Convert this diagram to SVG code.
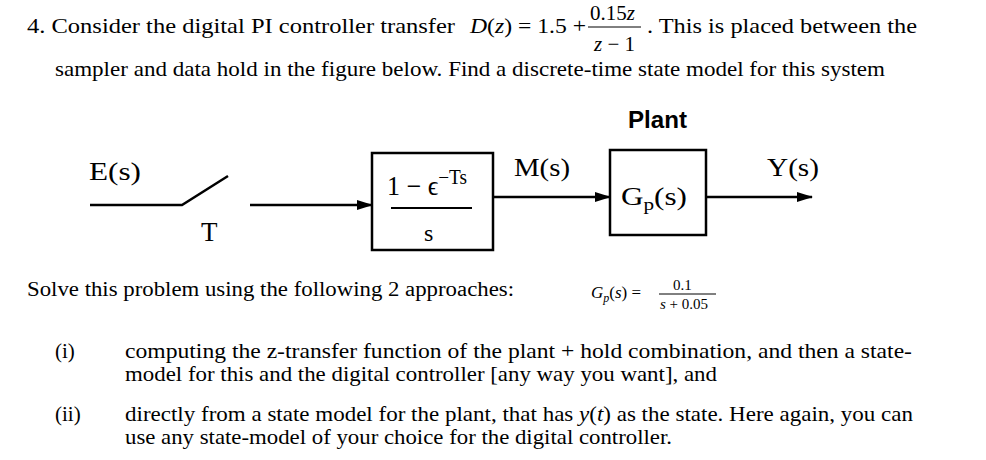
<svg xmlns="http://www.w3.org/2000/svg" width="986" height="460" viewBox="0 0 986 460">
<style>
text{font-family:"Liberation Serif",serif;fill:#000}
.t{font-size:21px}
.n{fill:none;stroke:#000;stroke-width:2.5}
.b{fill:none;stroke:#000;stroke-width:2.5}
</style>
<defs><marker id="a" markerWidth="16" markerHeight="10" refX="15" refY="5" orient="auto" markerUnits="userSpaceOnUse"><path d="M0,0 L16,5 L0,10z"/></marker></defs>
<rect width="986" height="460" fill="#fff"/>
<g id="text">
<text class="t" x="27" y="33" textLength="428" lengthAdjust="spacingAndGlyphs">4.  Consider the digital PI controller transfer</text>
<text class="t" x="470" y="33" textLength="116" lengthAdjust="spacingAndGlyphs"><tspan font-style="italic">D</tspan>(<tspan font-style="italic">z</tspan>) = 1.5 +</text>
<text class="t" x="590" y="20">0.15<tspan font-style="italic">z</tspan></text>
<line x1="588" y1="27" x2="641" y2="27" stroke="#000" stroke-width="1"/>
<text class="t" x="594" y="51"><tspan font-style="italic">z</tspan> − 1</text>
<text class="t" x="647" y="33" textLength="270" lengthAdjust="spacingAndGlyphs">.  This is placed between the</text>
<text class="t" x="55" y="76" textLength="830" lengthAdjust="spacingAndGlyphs">sampler and data hold in the figure below. Find a discrete-time state model for this system</text>
<text x="27" y="296" font-size="20" textLength="487" lengthAdjust="spacingAndGlyphs">Solve this problem using the following 2 approaches:</text>
<text x="591" y="298" font-size="17"><tspan font-style="italic">G</tspan><tspan font-style="italic" font-size="12" dy="4">p</tspan><tspan dy="-4">(</tspan><tspan font-style="italic">s</tspan>) =</text>
<text x="673" y="290" font-size="15">0.1</text>
<line x1="659" y1="294" x2="716" y2="294" stroke="#000" stroke-width="1"/>
<text x="660" y="309" font-size="15"><tspan font-style="italic">s</tspan> + 0.05</text>
<text class="t" x="55" y="358">(i)</text>
<text class="t" x="125" y="358" textLength="787" lengthAdjust="spacingAndGlyphs">computing the z-transfer function of the plant + hold combination, and then a state-</text>
<text class="t" x="125" y="381" textLength="592" lengthAdjust="spacingAndGlyphs">model for this and the digital controller [any way you want], and</text>
<text class="t" x="55" y="421">(ii)</text>
<text class="t" x="125" y="421" textLength="788" lengthAdjust="spacingAndGlyphs">directly from a state model for the plant, that has <tspan font-style="italic">y</tspan>(<tspan font-style="italic">t</tspan>) as the state. Here again, you can</text>
<text class="t" x="125" y="444" textLength="547" lengthAdjust="spacingAndGlyphs">use any state-model of your choice for the digital controller.</text>
</g>
<g id="labels">
<text x="628" y="128" font-size="24" font-weight="bold" textLength="59" lengthAdjust="spacingAndGlyphs" style="font-family:'Liberation Sans',sans-serif">Plant</text>
<text x="89" y="180" font-size="25" textLength="52" lengthAdjust="spacingAndGlyphs">E(s)</text>
<text x="201" y="241" font-size="27">T</text>
<text x="514" y="176" font-size="25" textLength="56" lengthAdjust="spacingAndGlyphs">M(s)</text>
<text x="767" y="176" font-size="25" textLength="52" lengthAdjust="spacingAndGlyphs">Y(s)</text>
</g>
<g id="hold">
<rect x="372" y="153" width="121" height="97" class="b"/>
<text x="387" y="195" font-size="27" textLength="80" lengthAdjust="spacingAndGlyphs">1 − ϵ<tspan font-size="20" dy="-11">−Ts</tspan></text>
<line x1="391" y1="208" x2="472" y2="208" stroke="#000" stroke-width="2"/>
<text x="424" y="241" font-size="24">s</text>
</g>
<g id="plant">
<rect x="610" y="150" width="96" height="85" class="b"/>
<text x="621" y="205" font-size="25" textLength="66" lengthAdjust="spacingAndGlyphs">G<tspan font-size="17" dy="5">p</tspan><tspan dy="-5">(s)</tspan></text>
</g>
<g id="connectors">
<polyline points="90,205 182,205 228,176" class="n"/>
<line x1="250" y1="205" x2="372" y2="205" class="n" marker-end="url(#a)"/>
<line x1="493" y1="197" x2="610" y2="197" class="n" marker-end="url(#a)"/>
<line x1="706" y1="197" x2="812" y2="197" class="n" marker-end="url(#a)"/>
</g>
</svg>
